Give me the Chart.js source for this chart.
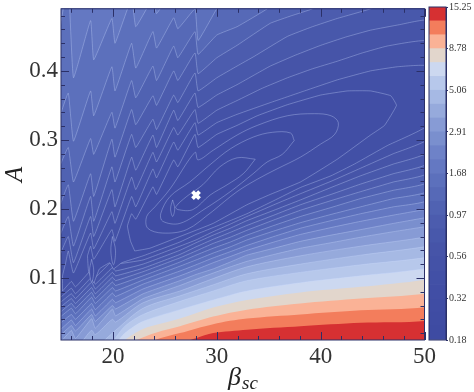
<!DOCTYPE html>
<html><head><meta charset="utf-8">
<style>html,body{margin:0;padding:0;background:#fff}canvas{position:absolute;left:0;top:0}</style>
<script src="https://cdn.jsdelivr.net/npm/chart.js@4"></script></head>
<body><canvas id="main" width="474" height="392"></canvas><canvas id="bar" width="474" height="392"></canvas>
<script>
const xTicks=[20,30,40,50];
const yTicks=[0.1,0.2,0.3,0.4];
const xMinor=[16,18,22,24,26,28,32,34,36,38,42,44,46,48];
const yMinor=[0.02,0.04,0.06,0.08,0.12,0.14,0.16,0.18,0.22,0.24,0.26,0.28,0.32,0.34,0.36,0.38,0.42,0.44,0.46,0.48];
const barLabels=['0.18','0.32','0.56','0.97','1.68','2.91','5.06','8.78','15.25'];
const bandColors=['#3e4ba2','#3f4ca3','#404da4','#414ea5','#4250a6','#4452a7','#4654a8','#4858ab','#4c5cae','#5062b2','#5669b7','#5c70bc','#6478c2','#6e82c8','#7a8fce','#879bd5','#96aadc','#a6b9e4','#b7c8eb','#ccd8f0','#e2d6cc','#fab296','#f37d5c','#d63032'];
const best=[28,0.22];

// lower branches, column betas (left to right)
const lowBeta=[14.9,16,16.4,17.95,18.3,19.95,20.25,22.9,26.45,28,29.65,31.3,32.9,35.5,38.05,41,43.85,47,50.3];
const low9=[.007,.024,.012,.041,.027,.055,.045,.07,.089,.098,.107,.116,.124,.134,.143,.151,.159,.167,.175];
const low10=[.017,.031,.023,.047,.037,.06,.055,.077,.096,.105,.113,.123,.133,.143,.153,.162,.17,.179,.188];
const low11=[.025,.039,.031,.055,.045,.069,.064,.084,.103,.112,.122,.131,.14,.152,.163,.173,.182,.191,.2];
const low12=[.034,.047,.04,.063,.054,.078,.073,.091,.11,.119,.129,.138,.147,.16,.172,.183,.193,.203,.213];
const low13=[.043,.056,.048,.072,.063,.086,.081,.097,.117,.126,.136,.145,.155,.168,.18,.192,.203,.215,.226];
const low14=[.05,.063,.056,.079,.07,.094,.089,.103,.123,.133,.143,.152,.162,.176,.189,.202,.215,.227,.239];
const low15=[.057,.07,.063,.086,.077,.101,.096,.109,.129,.139,.15,.159,.169,.184,.198,.212,.225,.239,.252];
const low16=[.064,.077,.07,.094,.084,.108,.103,.114,.134,.145,.156,.166,.176,.191,.206,.221,.236,.251,.266];
const low17=[.071,.085,.077,.101,.091,.115,.11,.12,.14,.151,.162,.172,.183,.198,.213,.231,.248,.265,.282];

// open contours at the warm end, [beta, A]
const c1=[[27,.008],[28,.0125],[29.65,.02],[32.9,.025],[38.05,.03],[43.85,.035],[50.3,.038]];
const c2=[[23.55,.004],[24.05,.01],[26.45,.02],[29.65,.033],[32.9,.041],[38.05,.047],[43.85,.053],[50.3,.058]];
const c3=[[21.6,.002],[22.3,.01],[24.2,.021],[26.45,.03],[29.65,.044],[32.9,.054],[38.05,.063],[43.85,.07],[50.3,.0775]];
const c4=[[20.65,.002],[21.15,.01],[22.9,.026],[26.45,.041],[29.65,.057],[32.9,.068],[38.05,.079],[43.85,.087],[50.3,.098]];
const c5=[[20.45,.008],[21.15,.02],[22.9,.037],[26.45,.054],[29.65,.068],[32.9,.081],[38.05,.093],[43.85,.103],[50.3,.114]];
const c6=[[20,.008],[21.15,.03],[22.9,.047],[26.45,.066],[29.65,.081],[32.9,.096],[38.05,.108],[43.85,.119],[50.3,.13]];
const c7=[[19,.007],[20.25,.024],[22.9,.056],[26.45,.074],[29.65,.09],[32.9,.106],[38.05,.12],[43.85,.133],[50.3,.146]];
const c8=[[17,.007],[17.95,.024],[18.3,.018],[19.95,.04],[20.25,.036],[22.9,.064],[26.45,.081],[29.65,.099],[32.9,.116],[38.05,.132],[43.85,.146],[50.3,.16]];

// saw-tooth upper branches, column betas (left to right)
const zigBeta=[14.9,15.7,16.2,17.85,18.15,19.9,20.2,21.8,22.2,23.85,24.2,25.85,26.25,27.9,28.2,30,31.95];
const up12=[.459,.526,.39,.473,.416,.476,.44,.505,.464,.505,.483,.519,.505,.526,.505,.526,.533];
const up13=[.332,.368,.298,.371,.335,.406,.371,.44,.404,.457,.433,.477,.461,.49,.444,.49,.526];
const up14=[.261,.289,.239,.302,.279,.34,.317,.386,.361,.407,.386,.436,.419,.457,.424,.452,.464];
const up15=[.203,.235,.182,.251,.218,.301,.275,.344,.322,.364,.35,.4,.386,.426,.396,.419,.437];
const up16=[.16,.189,.146,.218,.182,.261,.239,.308,.289,.33,.315,.365,.354,.397,.371,.39,.407];
const up17=[.132,.16,.122,.189,.16,.228,.203,.275,.256,.307,.289,.343,.328,.368,.347,.365,.38];
const tail12=[[50.3,.54]];
const tail13=[[50.3,.54]];
const tail14=[[34.85,.49],[38,.533],[50.3,.54]];
const tail15=[[35.15,.469],[37.2,.48],[39.2,.49],[41.9,.519],[50.3,.54]];
const tail16=[[33.6,.421],[36.8,.45],[39.2,.464],[41.6,.476],[44.8,.49],[47.7,.512],[50.3,.54]];
const tail17=[[33.6,.394],[35.15,.407],[37.6,.423],[40,.437],[42.4,.449],[44.8,.459],[47.6,.467],[50.3,.473]];

// contours that close around the valley
const c18Low=[[15.15,.081],[16,.095],[16.4,.087],[17.95,.112],[18.3,.101],[19.95,.125],[20.25,.12],[22.9,.126],[26.45,.146],[28,.155],[29.65,.167],[31.3,.178],[32.9,.189],[35.5,.206],[38.05,.222],[41,.24],[43.85,.259],[47,.28],[50.3,.301]];
const c18Up=[[15.15,.103],[15.45,.122],[15.7,.139],[16.2,.107],[17.85,.165],[18.15,.142],[19.9,.196],[20.2,.179],[21.8,.246],[22.2,.228],[23.85,.282],[24.2,.268],[25.85,.318],[26.25,.307],[27.9,.344],[28.2,.324],[30,.343],[31.95,.357],[34.4,.375],[36.8,.39],[39.2,.403],[41.6,.414],[44,.426],[46.4,.436],[50.3,.443]];
const c19Low=[[17.55,.132],[17.65,.11],[18.15,.093],[18.7,.113],[19.7,.122],[20.05,.113],[20.85,.122],[22.9,.132],[26.45,.152],[28,.163],[29.65,.173],[31.3,.183],[32.9,.193],[35.5,.212],[38.05,.231],[41,.248],[43.25,.265],[46.45,.292],[50.3,.321]];
const c19Up=[[17.85,.146],[18.15,.127],[19.9,.17],[20.2,.153],[21.8,.218],[22.2,.203],[23.85,.258],[24.2,.245],[25.85,.297],[26.25,.285],[27.9,.325],[28.2,.307],[30,.325],[31.95,.337],[35.15,.354],[38.45,.371],[41.6,.387],[44.8,.4],[47.4,.406],[50.3,.407]];
const c20=[[22.1,.139],[23.55,.143],[26.45,.16],[29.65,.179],[32.9,.206],[35.15,.221],[38.05,.239],[41.6,.272],[44.8,.307],[46.15,.321],[47.3,.35],[46.75,.364],[44.8,.371],[42.6,.371],[40,.365],[36.8,.351],[33.9,.335],[31.95,.321],[30,.308],[28.2,.289],[27.9,.308],[26.25,.261],[25.85,.271],[24.2,.221],[23.85,.232],[22.2,.185],[21.8,.193],[21.4,.175],[21.7,.153]];
const lensA=[[19.95,.16],[20.25,.139],[20.05,.119],[19.8,.139]];
const lensB=[[17.95,.127],[18.15,.11],[17.95,.094],[17.75,.11]];
const c21=[[29.55,.196],[31.95,.225],[33.9,.243],[35.8,.258],[38.05,.275],[40,.294],[41.35,.308],[41.7,.325],[41,.335],[39.4,.338],[36.8,.335],[33.9,.321],[31.95,.307],[29.65,.285],[28.2,.271],[27.9,.282],[25.5,.229],[24.05,.203],[23.25,.189],[23.35,.172],[24.8,.165],[27.1,.17]];
const c22=[[37.45,.299],[36.3,.279],[34.85,.268],[33.5,.251],[31.3,.225],[28.85,.2],[26.45,.179],[24.8,.182],[24.6,.193],[25.5,.218],[27.4,.239],[29.35,.264],[31.3,.287],[33.5,.304],[35.35,.311],[37.1,.31]];
const c23=[[33.7,.272],[31.95,.274],[30.3,.261],[28.65,.235],[27.1,.218],[26.05,.203],[26.25,.199],[27.7,.199],[29.35,.22],[31,.235],[32.55,.251]];
const c24=[[25.75,.213],[25.95,.2],[25.75,.189],[25.55,.2]];

const FONT='"Liberation Serif",serif';
const INK='#333333', FRAME='#2b3068';
const pts=a=>a.map(p=>({x:p[0],y:p[1]}));
const zip=(xs,ys)=>xs.map((x,i)=>[x,ys[i]]);
const TOP=[[54,.56],[12,.56]];
const ext=c=>[...c,[53,c[c.length-1][1]+.012]];
const open=c=>[...ext(c),...TOP,[12,-.03]];
const flat=low=>[[12,low[0]],...ext(zip(lowBeta,low)),...TOP];
const withUp=(low,up,tail)=>[...zip(lowBeta,low),...[...zip(zigBeta,up),...tail].reverse()];
const polys=[
 [[12,-.03],[54,-.03],[54,.56],[12,.56]],
 open(c1),open(c2),open(c3),open(c4),open(c5),open(c6),open(c7),open(c8),
 flat(low9),flat(low10),flat(low11),
 withUp(low12,up12,tail12),withUp(low13,up13,tail13),withUp(low14,up14,tail14),withUp(low15,up15,tail15),withUp(low16,up16,tail16),withUp(low17,up17,tail17),
 [...c18Low,...[...c18Up].reverse()],
 [[17.55,.132],...c19Low.slice(1),...[...c19Up].reverse()],
 c20,c21,c22,c23,c24
];
const tensionFor=k=>k===0?0:(k<=8?0.3:(k<=20?0.1:0.35));
const dsets=polys.map((p,k)=>({
 type:'scatter',showLine:true,data:pts(k?[...p,p[0]]:p),pointRadius:0,fill:'shape',tension:tensionFor(k),
 backgroundColor:bandColors[Math.max(23-k,0)],
 borderColor:k>4?'rgba(205,218,255,0.42)':'rgba(0,0,0,0)',borderWidth:k?0.8:0,
 order:200-k,clip:0
}));
[lensA,lensB].forEach(l=>dsets.push({type:'scatter',showLine:true,data:pts([...l,l[0]]),pointRadius:0,fill:'shape',tension:0.4,backgroundColor:bandColors[3],borderColor:'rgba(205,218,255,0.42)',borderWidth:0.8,order:170,clip:0}));
dsets.push({type:'scatter',data:pts([best]),pointStyle:'crossRot',pointRadius:5,pointBorderWidth:3.8,pointBorderColor:'#fff',pointBackgroundColor:'#fff',order:0});

const frame={id:'frame',afterDatasetsDraw(ch){
 const {ctx,chartArea:a,scales:{x,y}}=ch;ctx.save();ctx.strokeStyle=FRAME;ctx.lineWidth=1;
 const H=(v,l)=>{const p=Math.round(x.getPixelForValue(v))+.5;ctx.beginPath();ctx.moveTo(p,a.top);ctx.lineTo(p,a.top+l);ctx.moveTo(p,a.bottom);ctx.lineTo(p,a.bottom-l);ctx.stroke();};
 const V=(v,l)=>{const p=Math.round(y.getPixelForValue(v))+.5;ctx.beginPath();ctx.moveTo(a.left,p);ctx.lineTo(a.left+l,p);ctx.moveTo(a.right,p);ctx.lineTo(a.right-l,p);ctx.stroke();};
 xTicks.forEach(v=>H(v,8));xMinor.forEach(v=>H(v,4));yTicks.forEach(v=>V(v,8));yMinor.forEach(v=>V(v,4));
 ctx.strokeRect(a.left,a.top,a.right-a.left,a.bottom-a.top);
 ctx.fillStyle='#222';ctx.textBaseline='alphabetic';ctx.textAlign='left';
 ctx.font='italic 26px '+FONT;ctx.fillText('β',228,385);
 ctx.font='italic 19px '+FONT;ctx.fillText('sc',242,389);
 ctx.restore();
}};

new Chart(document.getElementById('main'),{
 data:{datasets:dsets},
 plugins:[frame],
 options:{responsive:false,animation:false,events:[],
  layout:{padding:{left:0,top:5,right:49.5,bottom:0}},
  plugins:{legend:{display:false},tooltip:{enabled:false}},
  scales:{
   x:{type:'linear',min:15,max:50,afterFit:s=>{s.height=52;s.paddingLeft=0;s.paddingRight=0},afterBuildTicks:s=>{s.ticks=xTicks.map(v=>({value:v}))},
      grid:{display:false,drawTicks:false},border:{display:false},
      ticks:{autoSkip:false,maxRotation:0,padding:3,color:INK,font:{family:FONT,size:23}}},
   y:{type:'linear',min:0.01,max:0.49,afterFit:s=>{s.width=61;s.paddingTop=0;s.paddingBottom=0},afterBuildTicks:s=>{s.ticks=yTicks.map(v=>({value:v}))},
      grid:{display:false,drawTicks:false},border:{display:false},
      title:{display:true,text:'A',color:'#222',padding:{top:0,bottom:0},font:{family:FONT,size:25,style:'italic'}},
      ticks:{autoSkip:false,padding:3,color:INK,callback:v=>v.toFixed(1),font:{family:FONT,size:23}}}
  }
 }
});

const barFrame={id:'barFrame',afterDatasetsDraw(ch){const {ctx,chartArea:a}=ch;ctx.save();ctx.strokeStyle=FRAME;ctx.lineWidth=1;ctx.strokeRect(a.left,a.top,a.right-a.left,a.bottom-a.top);ctx.restore();}};
new Chart(document.getElementById('bar'),{
 type:'bar',
 data:{labels:[''],datasets:bandColors.map(c=>({data:[1],backgroundColor:c,barPercentage:1,categoryPercentage:1,borderWidth:0}))},
 plugins:[barFrame],
 options:{responsive:false,animation:false,events:[],
  layout:{padding:{left:429,top:5,right:0,bottom:52}},
  plugins:{legend:{display:false},tooltip:{enabled:false}},
  scales:{
   x:{stacked:true,display:false},
   y:{stacked:true,position:'right',min:0,max:24,afterFit:s=>{s.width=28},afterBuildTicks:s=>{s.ticks=barLabels.map((_,i)=>({value:i*3}))},
      grid:{drawOnChartArea:false,tickLength:2,color:FRAME},border:{color:FRAME},
      ticks:{autoSkip:false,padding:1,color:INK,callback:v=>barLabels[v/3],font:{family:FONT,size:10}}}
  }
 }
});
</script></body></html>
